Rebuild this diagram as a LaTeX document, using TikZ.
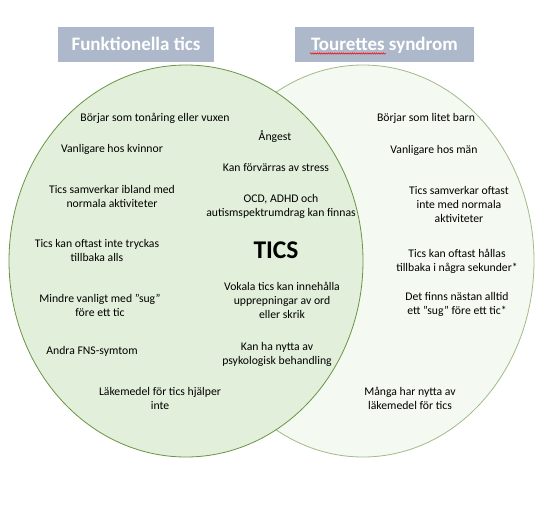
\documentclass[tikz,border=0pt]{standalone}
\usepackage{fontspec}
\setmainfont{Carlito}
\usetikzlibrary{decorations.pathmorphing}
\definecolor{titlebg}{HTML}{ADB9CA}
\definecolor{ftfill}{HTML}{E2EFDA}
\definecolor{ftline}{HTML}{6A9444}
\definecolor{tsfill}{HTML}{F4F9F1}
\definecolor{tsline}{HTML}{A2BA88}

\begin{document}
\begin{tikzpicture}[x=1pt,y=-1pt,
  txt/.style={align=center,font=\fontsize{11.7}{14}\selectfont,inner sep=0pt},
  ttl/.style={fill=titlebg,text=white,font=\bfseries\fontsize{19}{21}\selectfont,
    minimum height=35pt,inner sep=0pt,text height=16pt,text depth=3.6pt}]
\useasboundingbox (0,0) rectangle (556,507);
% the two sets
\draw[tsline,fill=tsfill,line width=0.8pt] (363,261) ellipse [x radius=171pt,y radius=196pt];
\draw[ftline,fill=ftfill,line width=0.8pt] (186,261) ellipse [x radius=177pt,y radius=196pt];
% titles
\node[ttl,minimum width=156pt] (ft) at (136,44.5) {Funktionella tics};
\node[ttl,minimum width=179pt] (ts) at (384.5,44.5) {Tourettes syndrom};
\draw[red,line width=0.5pt,decorate,decoration={snake,amplitude=0.7pt,segment length=2.2pt}] (310,53.5)--(386,53.5);
% funktionella tics
\node[txt] (f1) at (155,118) {Börjar som tonåring eller vuxen};
\node[txt] (f2) at (112,149) {Vanligare hos kvinnor};
\node[txt] (f3) at (112,196) {Tics samverkar ibland med\\normala aktiviteter};
\node[txt] (f4) at (97,250) {Tics kan oftast inte tryckas\\tillbaka alls};
\node[txt] (f5) at (100,305) {Mindre vanligt med ”sug”\\före ett tic};
\node[txt] (f6) at (92,351) {Andra FNS-symtom};
\node[txt] (f7) at (160,398) {Läkemedel för tics hjälper\\inte};
% gemensamt
\node[txt] (c1) at (275,137) {Ångest};
\node[txt] (c2) at (276,168) {Kan förvärras av stress};
\node[txt] (c3) at (281,206) {OCD, ADHD och\\autismspektrumdrag kan finnas};
\node[txt,font=\bfseries\fontsize{25.5}{28}\selectfont] (tics) at (276,250) {TICS};
\node[txt] (c4) at (282,300) {Vokala tics kan innehålla\\upprepningar av ord\\eller skrik};
\node[txt] (c5) at (277,354) {Kan ha nytta av\\psykologisk behandling};
% tourettes syndrom
\node[txt] (t1) at (426,118) {Börjar som litet barn};
\node[txt] (t2) at (434,150) {Vanligare hos män};
\node[txt] (t3) at (459,204) {Tics samverkar oftast\\inte med normala\\aktiviteter};
\node[txt] (t4) at (457,261) {Tics kan oftast hållas\\tillbaka i några sekunder*};
\node[txt] (t5) at (457,304) {Det finns nästan alltid\\ett ”sug” före ett tic*};
\node[txt] (t6) at (410,398) {Många har nytta av\\läkemedel för tics};
\end{tikzpicture}
\end{document}
